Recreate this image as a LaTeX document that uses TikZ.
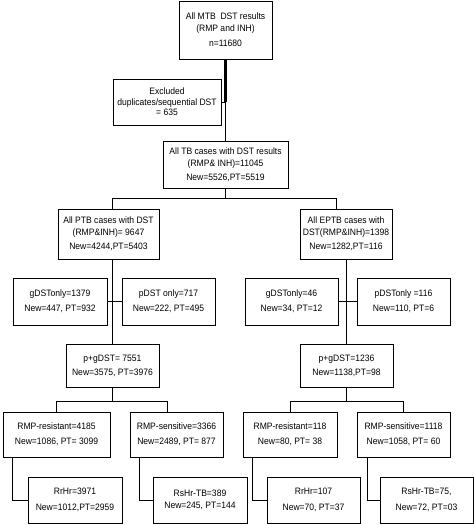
\documentclass[tikz,border=0pt]{standalone}
\usepackage{fontspec}
\setmainfont[FakeStretch=0.92]{Liberation Sans}
\begin{document}
\begin{tikzpicture}[x=1pt,y=-1pt,
  box/.style={draw=black, line width=0.9pt, inner sep=0pt, align=center,
    font=\fontsize{9.3}{12}\selectfont},
  con/.style={draw=black, line width=0.9pt}]
\useasboundingbox (0,0) rectangle (474,525);
% boxes
\node[box, minimum width=93pt, minimum height=58pt] (top) at (225.5,30) {All MTB~ DST results\\(RMP and INH)\\[3pt]n=11680};
\node[box, minimum width=108pt, minimum height=46pt, font=\fontsize{9.3}{10.5}\selectfont] (excl) at (167,102) {Excluded\\duplicates/sequential DST\\= 635};
\node[box, minimum width=125pt, minimum height=47pt] (tb) at (225.5,164.5) {All TB cases with DST results\\(RMP\& INH)=11045\\[2pt]New=5526,PT=5519};
\node[box, minimum width=101pt, minimum height=50pt] (ptb) at (108.5,234) {All PTB cases with DST\\(RMP\&INH)= 9647\\[2pt]New=4244,PT=5403};
\node[box, minimum width=92pt, minimum height=50pt] (eptb) at (346,234) {All EPTB cases with\\DST(RMP\&INH)=1398\\[2pt]New=1282,PT=116};
\node[box, minimum width=94pt, minimum height=47pt] (gL) at (60,301.5) {gDSTonly=1379\\[3pt]New=447, PT=932};
\node[box, minimum width=93pt, minimum height=47pt] (pL) at (168.5,301.5) {pDST only=717\\[3pt]New=222, PT=495};
\node[box, minimum width=93pt, minimum height=47pt] (gR) at (291.5,301.5) {gDSTonly=46\\[3pt]New=34, PT=12};
\node[box, minimum width=93pt, minimum height=47pt] (pR) at (403.5,301.5) {pDSTonly =116\\[3pt]New=110, PT=6};
\node[box, minimum width=93pt, minimum height=43pt] (pgL) at (112.5,365.5) {p+gDST= 7551\\[2pt]New=3575, PT=3976};
\node[box, minimum width=93pt, minimum height=43pt] (pgR) at (346.5,365.5) {p+gDST=1236\\[2pt]New=1138,PT=98};
\node[box, minimum width=107pt, minimum height=45pt] (rL) at (56.5,434.5) {RMP-resistant=4185\\[3pt]New=1086, PT= 3099};
\node[box, minimum width=93pt, minimum height=45pt] (sL) at (176.5,434.5) {RMP-sensitive=3366\\[3pt]New=2489, PT= 877};
\node[box, minimum width=94pt, minimum height=45pt] (rR) at (290,434.5) {RMP-resistant=118\\[3pt]New=80, PT= 38};
\node[box, minimum width=93pt, minimum height=45pt] (sR) at (403.5,434.5) {RMP-sensitive=1118\\[3pt]New=1058, PT= 60};
\node[box, minimum width=94pt, minimum height=46pt] (bL) at (75,500) {RrHr=3971\\[4pt]New=1012,PT=2959};
\node[box, minimum width=94pt, minimum height=46pt] (bL2) at (200,500) {RsHr-TB=389\\New=245, PT=144};
\node[box, minimum width=93pt, minimum height=46pt] (bR) at (313.5,500) {RrHr=107\\[4pt]New=70, PT=37};
\node[box, minimum width=93pt, minimum height=46pt] (bR2) at (426.5,500) {RsHr-TB=75,\\[4pt]New=72, PT=03};
% connectors
\draw[con] (top.south) -- (top.south |- tb.north);
\draw[draw=black, line width=2.6pt] (top.south) -- (top.south |- excl.east);
\draw[con] (excl.east) -- (excl.east -| top.south);
\coordinate (j1) at ([yshift=-10pt]tb.south);
\draw[con] (tb.south) -- (j1);
\draw[con] ([xshift=3.5pt]ptb.north) |- (j1) -| ([xshift=-10pt]eptb.north);
\draw[con] (ptb.south -| pgL.north) -- (pgL.north);
\draw[con] (gL.east) -- (pL.west);
\draw[con] (eptb.south -| pgR.north) -- (pgR.north);
\draw[con] (gR.east) -- (pR.west);
\coordinate (j2) at ([yshift=-14pt]pgL.south);
\draw[con] (pgL.south) -- (j2);
\draw[con] (rL.north) |- (j2) -| ([xshift=-9.5pt]sL.north);
\coordinate (j3) at ([yshift=-14pt]pgR.south);
\draw[con] (pgR.south) -- (j3);
\draw[con] (rR.north) |- (j3) -| (sR.north);
\draw[con] ([xshift=-44.5pt]rL.south) |- (bL.west);
\draw[con] ([xshift=-37.5pt]sL.south) |- (bL2.west);
\draw[con] ([xshift=-38pt]rR.south) |- (bR.west);
\draw[con] ([xshift=-36.5pt]sR.south) |- (bR2.west);
\end{tikzpicture}
\end{document}
